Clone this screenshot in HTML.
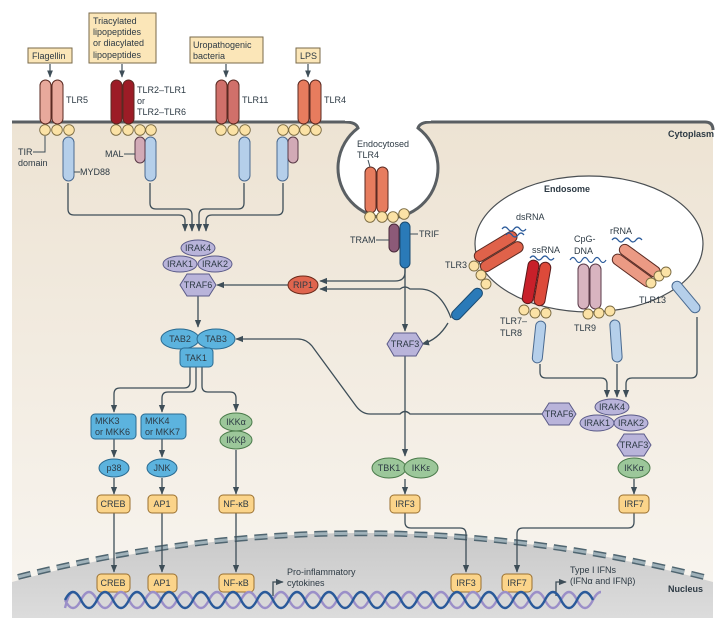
<!DOCTYPE html>
<html><head><meta charset="utf-8"><style>
html,body{margin:0;padding:0;background:#fff;}
svg{display:block;}
text{font-family:"Liberation Sans",sans-serif;font-size:9px;fill:#2d3a44;}
.lbl{font-size:9px;fill:#2d3a44;}
.c{text-anchor:middle;}
</style></head><body>
<svg width="720" height="623" viewBox="0 0 720 623" xmlns="http://www.w3.org/2000/svg">
<defs>
<linearGradient id="cyto" x1="0" y1="0" x2="0" y2="1">
<stop offset="0" stop-color="#ede3d3"/><stop offset="1" stop-color="#f8f5f0"/></linearGradient>
<linearGradient id="nuc" x1="0" y1="0" x2="0" y2="1">
<stop offset="0" stop-color="#c9c9c9"/><stop offset="1" stop-color="#dcdcdc"/></linearGradient>
<marker id="ar" viewBox="0 0 10 10" refX="9" refY="5" markerWidth="6" markerHeight="6" orient="auto-start-reverse"><path d="M0,1 L10,5 L0,9 Z" fill="#3e4e58"/></marker>
</defs>

<!-- cytoplasm -->
<path d="M12,122 H705 Q713,122 713,130 V618 H12 Z" fill="url(#cyto)"/>
<!-- nucleus -->
<path d="M12,582 Q362,484 713,582 V618 H12 Z" fill="url(#nuc)"/>
<path d="M18,577 Q362,489 708,578" fill="none" stroke="#4f6570" stroke-width="6" stroke-dasharray="13 7"/>
<path d="M18,577 Q362,489 708,578" fill="none" stroke="#9fb1b9" stroke-width="3" stroke-dasharray="13 7"/>

<!-- vesicle + membrane -->
<path d="M345,122 Q356,122 358,128 A50 50 0 1 0 418,128 Q420,122 431,122 Z" fill="#fff"/>
<path d="M12,122 H345 Q356,122 358,128 A50 50 0 1 0 418,128 Q420,122 431,122 H705 Q713,122 713,130" fill="none" stroke="#5a5f63" stroke-width="3"/>
<rect x="345" y="110" width="86" height="11" fill="#fff"/>

<!-- endosome -->
<ellipse cx="589" cy="244" rx="114" ry="68" fill="#fff" stroke="#4a4f53" stroke-width="1.2"/>

<text x="668" y="137" style="font-weight:bold;font-size:9px">Cytoplasm</text>
<text x="668" y="592" style="font-weight:bold;font-size:9px">Nucleus</text>
<text x="544" y="192" style="font-weight:bold;font-size:9px">Endosome</text>

<!-- ligand boxes -->
<g fill="#fbe6b8" stroke="#7a6a4a" stroke-width="1">
<rect x="28" y="48" width="44" height="15"/>
<rect x="89" y="13" width="67" height="50"/>
<rect x="190" y="37" width="73" height="26"/>
<rect x="296" y="48" width="24" height="15"/>
</g>
<text x="32" y="59">Flagellin</text>
<text x="93" y="24">Triacylated</text>
<text x="93" y="35">lipopeptides</text>
<text x="93" y="46">or diacylated</text>
<text x="93" y="58">lipopeptides</text>
<text x="193" y="48">Uropathogenic</text>
<text x="193" y="59">bacteria</text>
<text x="300" y="59">LPS</text>
<g stroke="#3e4e58" stroke-width="1.2" marker-end="url(#ar)">
<line x1="50" y1="64" x2="50" y2="77"/>
<line x1="122" y1="64" x2="122" y2="77"/>
<line x1="226" y1="64" x2="226" y2="77"/>
<line x1="308" y1="64" x2="308" y2="77"/>
</g>

<!-- connector lines -->
<g fill="none" stroke="#3e4e58" stroke-width="1.3">
<path d="M68,183 V209 Q68,215 74,215 H179 Q185,215 185,221 V231" marker-end="url(#ar)"/>
<path d="M150,183 V203 Q150,209 156,209 H186 Q192,209 192,215 V231" marker-end="url(#ar)"/>
<path d="M244,183 V203 Q244,209 238,209 H205 Q199,209 199,215 V231" marker-end="url(#ar)"/>
<path d="M283,183 V209 Q283,215 277,215 H212 Q206,215 206,221 V231" marker-end="url(#ar)"/>
<line x1="290" y1="285" x2="217" y2="285" marker-end="url(#ar)"/>
<path d="M405,268 V272 Q405,281 395,281 H320" marker-end="url(#ar)"/>
<path d="M451,318 Q440,289 420,289 H410 Q405,285 400,289 H320" marker-end="url(#ar)"/>
<path d="M405,268 V331" marker-end="url(#ar)"/>
<path d="M448,323 Q438,340 422,344" marker-end="url(#ar)"/>
<line x1="198" y1="295" x2="198" y2="327" marker-end="url(#ar)"/>
<!-- TRAF6 right to TAB3 -->
<path d="M546,414 H410 Q405,409 400,414 H370 Q362,414 356,406 L312,346 Q306,339 298,339 H236" marker-end="url(#ar)"/>
<!-- TAK1 branches -->
<path d="M190,367 V382 Q190,388 184,388 H120 Q114,388 114,394 V412" marker-end="url(#ar)"/>
<path d="M196,367 V386 Q196,392 190,392 H168 Q162,392 162,398 V412" marker-end="url(#ar)"/>
<path d="M202,367 V386 Q202,392 208,392 H230 Q236,392 236,398 V411" marker-end="url(#ar)"/>
<line x1="114" y1="439" x2="114" y2="457" marker-end="url(#ar)"/>
<line x1="162" y1="439" x2="162" y2="457" marker-end="url(#ar)"/>
<line x1="114" y1="478" x2="114" y2="494" marker-end="url(#ar)"/>
<line x1="162" y1="478" x2="162" y2="494" marker-end="url(#ar)"/>
<line x1="236" y1="450" x2="236" y2="494" marker-end="url(#ar)"/>
<line x1="114" y1="513" x2="114" y2="572" marker-end="url(#ar)"/>
<line x1="162" y1="513" x2="162" y2="572" marker-end="url(#ar)"/>
<line x1="236" y1="513" x2="236" y2="572" marker-end="url(#ar)"/>
<!-- TRAF3 to TBK1 -->
<line x1="405" y1="356" x2="405" y2="456" marker-end="url(#ar)"/>
<line x1="405" y1="479" x2="405" y2="494" marker-end="url(#ar)"/>
<path d="M405,513 V522 Q405,528 411,528 H460 Q466,528 466,534 V572" marker-end="url(#ar)"/>
<path d="M634,513 V522 Q634,528 628,528 H523 Q517,528 517,534 V572" marker-end="url(#ar)"/>
<line x1="634" y1="479" x2="634" y2="494" marker-end="url(#ar)"/>
<!-- endosome to IRAK4 -->
<path d="M540,364 V372 Q540,378 546,378 H601 Q607,378 607,384 V397" marker-end="url(#ar)"/>
<line x1="617" y1="364" x2="617" y2="397" marker-end="url(#ar)"/>
<path d="M697,317 V372 Q697,378 691,378 H632 Q626,378 626,384 V397" marker-end="url(#ar)"/>
<!-- gene arrows -->
<path d="M273,596 V582 H283" marker-end="url(#ar)"/>
<path d="M556,596 V582 H566" marker-end="url(#ar)"/>
</g>

<!-- receptors left -->
<g stroke="#5a2a22" stroke-width="1">
<rect x="40" y="80" width="11" height="44" rx="5.5" fill="#e8a99c"/>
<rect x="52" y="80" width="11" height="44" rx="5.5" fill="#e8a99c"/>
<rect x="111" y="80" width="11" height="44" rx="5.5" fill="#9c1c26"/>
<rect x="123" y="80" width="11" height="44" rx="5.5" fill="#9c1c26"/>
<rect x="216" y="80" width="11" height="44" rx="5.5" fill="#d0706a"/>
<rect x="228" y="80" width="11" height="44" rx="5.5" fill="#d0706a"/>
<rect x="298" y="80" width="11" height="44" rx="5.5" fill="#e77c5e"/>
<rect x="310" y="80" width="11" height="44" rx="5.5" fill="#e77c5e"/>
<rect x="365" y="167" width="11" height="46" rx="5.5" fill="#e77c5e"/>
<rect x="377" y="167" width="11" height="46" rx="5.5" fill="#e77c5e"/>
</g>
<g fill="#fbe2a6" stroke="#7a6a40" stroke-width="0.9">
<circle cx="45" cy="130" r="5.3"/><circle cx="57" cy="130" r="5.3"/><circle cx="69" cy="130" r="5.3"/>
<circle cx="116" cy="130" r="5.3"/><circle cx="128" cy="130" r="5.3"/><circle cx="140" cy="130" r="5.3"/><circle cx="151" cy="130" r="5.3"/>
<circle cx="221" cy="130" r="5.3"/><circle cx="233" cy="130" r="5.3"/><circle cx="245" cy="130" r="5.3"/>
<circle cx="283" cy="130" r="5.3"/><circle cx="294" cy="130" r="5.3"/><circle cx="305" cy="130" r="5.3"/><circle cx="316" cy="130" r="5.3"/>
<circle cx="370" cy="217" r="5.3"/><circle cx="382" cy="217" r="5.3"/><circle cx="393" cy="217" r="5.3"/><circle cx="404" cy="214" r="5.3"/>
</g>
<g stroke="#4a6a90" stroke-width="1" fill="#b5cfea">
<rect x="63" y="137" width="11" height="44" rx="5.5"/>
<rect x="145" y="137" width="11" height="44" rx="5.5"/>
<rect x="239" y="137" width="11" height="44" rx="5.5"/>
<rect x="277" y="137" width="11" height="44" rx="5.5"/>
</g>
<g stroke="#5a3a48" stroke-width="1" fill="#d2aab6">
<rect x="135" y="137" width="10" height="26" rx="5"/>
<rect x="288" y="137" width="10" height="26" rx="5"/>
</g>
<rect x="389" y="224" width="10" height="28" rx="5" fill="#8c5a78" stroke="#4a2a3a"/>
<rect x="400" y="222" width="10" height="46" rx="5" fill="#2a7ab8" stroke="#1a4a70"/>

<text x="66" y="103">TLR5</text>
<text x="137" y="93">TLR2–TLR1</text>
<text x="137" y="104">or</text>
<text x="137" y="115">TLR2–TLR6</text>
<text x="242" y="103">TLR11</text>
<text x="324" y="103">TLR4</text>
<text x="18" y="155">TIR</text>
<text x="18" y="166">domain</text>
<path d="M33,152 H45 V136" fill="none" stroke="#3e4e58"/>
<text x="80" y="175">MYD88</text>
<line x1="74" y1="172" x2="80" y2="172" stroke="#3e4e58"/>
<text x="105" y="157">MAL</text>
<line x1="124" y1="154" x2="135" y2="154" stroke="#3e4e58"/>
<text x="357" y="147">Endocytosed</text>
<text x="357" y="158">TLR4</text>
<line x1="368" y1="160" x2="370" y2="167" stroke="#3e4e58"/>
<text x="350" y="243">TRAM</text>
<line x1="376" y1="240" x2="389" y2="240" stroke="#3e4e58"/>
<text x="419" y="237">TRIF</text>
<line x1="410" y1="234" x2="418" y2="234" stroke="#3e4e58"/>

<!-- endosomal receptors -->
<g transform="translate(499,252) rotate(-31)" stroke="#5a2a22">
<rect x="-24" y="-12" width="48" height="11" rx="5.5" fill="#e0624a"/>
<rect x="-24" y="0" width="48" height="11" rx="5.5" fill="#e0624a"/>
</g>
<g transform="translate(467,304) rotate(-46)"><rect x="-20" y="-5" width="40" height="10" rx="5" fill="#2a7ab8" stroke="#1a4a70"/></g>
<g transform="translate(537,283) rotate(10)" stroke="#5a1a1a">
<rect x="-12" y="-22" width="11" height="44" rx="5.5" fill="#c8202a"/>
<rect x="0" y="-22" width="11" height="44" rx="5.5" fill="#dd4a3a"/>
</g>
<g stroke="#5a3a48" fill="#d8b4c0">
<rect x="578" y="264" width="11" height="45" rx="5.5"/>
<rect x="590" y="264" width="11" height="45" rx="5.5"/>
</g>
<g transform="translate(636,266) rotate(36)" stroke="#5a2a22">
<rect x="-24" y="-12" width="48" height="11" rx="5.5" fill="#eb9a84"/>
<rect x="-24" y="0" width="48" height="11" rx="5.5" fill="#eb9a84"/>
</g>
<g stroke="#4a6a90" fill="#b5cfea">
<g transform="translate(539,342) rotate(6)"><rect x="-5" y="-21" width="10" height="42" rx="5"/></g>
<g transform="translate(616,341) rotate(-4)"><rect x="-5" y="-21" width="10" height="42" rx="5"/></g>
<g transform="translate(686,297) rotate(-40)"><rect x="-5" y="-19" width="10" height="38" rx="5"/></g>
</g>
<g fill="#fbe2a6" stroke="#7a6a40" stroke-width="0.9">
<circle cx="474" cy="266" r="5"/><circle cx="481" cy="275" r="5"/><circle cx="486" cy="284" r="5"/>
<circle cx="524" cy="310" r="5"/><circle cx="535" cy="313" r="5"/><circle cx="546" cy="313" r="5"/>
<circle cx="588" cy="314" r="5"/><circle cx="599" cy="313" r="5"/><circle cx="610" cy="311" r="5"/>
<circle cx="651" cy="283" r="5"/><circle cx="659" cy="276" r="5"/><circle cx="666" cy="272" r="5"/>
</g>
<!-- nucleic acids -->
<g fill="none" stroke="#2a5a9a" stroke-width="1.2">
<path d="M502,229 q3,-4 6,0 t6,0 t6,0 t6,0"/><path d="M506,235 q3,-4 6,0 t6,0 t6,0"/>
<path d="M530,258 q3,-4 6,0 t6,0 t6,0 t6,0"/>
<path d="M570,260 q3,-5 6,0 t6,0 t6,0 t6,0 t6,0 t6,0"/>
<path d="M612,240 q3,-4 6,0 t6,0 t6,0 t6,0 t6,0"/>
</g>
<text x="516" y="220">dsRNA</text>
<text x="532" y="253">ssRNA</text>
<text x="574" y="242">CpG-</text>
<text x="574" y="254">DNA</text>
<text x="610" y="234">rRNA</text>
<text x="445" y="268">TLR3</text>
<text x="500" y="324">TLR7–</text>
<text x="500" y="336">TLR8</text>
<text x="574" y="331">TLR9</text>
<text x="639" y="303">TLR13</text>

<!-- hex helper shapes -->
<g fill="#b9b4da" stroke="#5a5a88" stroke-width="1">
<ellipse cx="198" cy="248" rx="17" ry="8"/>
<ellipse cx="180" cy="264" rx="17" ry="8"/>
<ellipse cx="215" cy="264" rx="17" ry="8"/>
<path d="M187,274 H209 L216,285 L209,296 H187 L180,285 Z"/>
<path d="M394,333 H416 L423,344 L416,356 H394 L387,344 Z"/>
<path d="M549,403 H569 L576,414 L569,425 H549 L542,414 Z"/>
<ellipse cx="612" cy="407" rx="17" ry="8"/>
<ellipse cx="597" cy="423" rx="17" ry="8"/>
<ellipse cx="631" cy="423" rx="17" ry="8"/>
<path d="M624,434 H644 L651,445 L644,456 H624 L617,445 Z"/>
</g>
<ellipse cx="303" cy="285" rx="15" ry="9" fill="#e0654e" stroke="#6a2a1a"/>
<g class="c">
<text x="198" y="251" class="c">IRAK4</text>
<text x="180" y="267" class="c">IRAK1</text>
<text x="215" y="267" class="c">IRAK2</text>
<text x="198" y="288" class="c">TRAF6</text>
<text x="303" y="288" class="c">RIP1</text>
<text x="405" y="347" class="c">TRAF3</text>
<text x="559" y="417" class="c">TRAF6</text>
<text x="612" y="410" class="c">IRAK4</text>
<text x="597" y="426" class="c">IRAK1</text>
<text x="631" y="426" class="c">IRAK2</text>
<text x="634" y="448" class="c">TRAF3</text>
</g>

<!-- blue kinases -->
<g fill="#5cb3de" stroke="#2a6a90" stroke-width="1">
<ellipse cx="180" cy="339" rx="19" ry="10"/>
<ellipse cx="216" cy="339" rx="19" ry="10"/>
<rect x="180" y="348" width="33" height="19" rx="4"/>
<rect x="91" y="414" width="45" height="25" rx="4"/>
<rect x="141" y="414" width="45" height="25" rx="4"/>
<ellipse cx="114" cy="468" rx="15" ry="9"/>
<ellipse cx="162" cy="468" rx="15" ry="9"/>
</g>
<text x="180" y="342" class="c">TAB2</text>
<text x="216" y="342" class="c">TAB3</text>
<text x="196" y="361" class="c">TAK1</text>
<text x="95" y="424">MKK3</text>
<text x="95" y="435">or MKK6</text>
<text x="145" y="424">MKK4</text>
<text x="145" y="435">or MKK7</text>
<text x="114" y="471" class="c">p38</text>
<text x="162" y="471" class="c">JNK</text>

<!-- green -->
<g fill="#9cc79a" stroke="#4a7a4a" stroke-width="1">
<ellipse cx="236" cy="422" rx="16" ry="9"/>
<ellipse cx="236" cy="440" rx="16" ry="9"/>
<ellipse cx="389" cy="468" rx="17" ry="10"/>
<ellipse cx="421" cy="468" rx="17" ry="10"/>
<ellipse cx="634" cy="468" rx="16" ry="10"/>
</g>
<text x="236" y="425" class="c">IKKα</text>
<text x="236" y="443" class="c">IKKβ</text>
<text x="389" y="471" class="c">TBK1</text>
<text x="421" y="471" class="c">IKKε</text>
<text x="634" y="471" class="c">IKKα</text>

<!-- yellow TFs -->
<g fill="#fbd48a" stroke="#9a7030" stroke-width="1">
<rect x="97" y="495" width="33" height="18" rx="4"/>
<rect x="148" y="495" width="29" height="18" rx="4"/>
<rect x="219" y="495" width="35" height="18" rx="4"/>
<rect x="390" y="495" width="30" height="18" rx="4"/>
<rect x="619" y="495" width="30" height="18" rx="4"/>
<rect x="97" y="574" width="33" height="18" rx="4"/>
<rect x="148" y="574" width="29" height="18" rx="4"/>
<rect x="219" y="574" width="35" height="18" rx="4"/>
<rect x="451" y="574" width="30" height="18" rx="4"/>
<rect x="502" y="574" width="30" height="18" rx="4"/>
</g>
<text x="113" y="507" class="c">CREB</text>
<text x="162" y="507" class="c">AP1</text>
<text x="236" y="507" class="c">NF-κB</text>
<text x="405" y="507" class="c">IRF3</text>
<text x="634" y="507" class="c">IRF7</text>
<text x="113" y="586" class="c">CREB</text>
<text x="162" y="586" class="c">AP1</text>
<text x="236" y="586" class="c">NF-κB</text>
<text x="466" y="586" class="c">IRF3</text>
<text x="517" y="586" class="c">IRF7</text>

<text x="287" y="575">Pro-inflammatory</text>
<text x="287" y="586">cytokines</text>
<text x="570" y="573">Type I IFNs</text>
<text x="570" y="584">(IFNα and IFNβ)</text>

<!-- DNA -->
<g fill="none" stroke-width="2.4">
<path stroke="#9b8fc8" d="M65,608 q4,-16 8,-16 M65,600 q4,8 8,8 t8,-8 t8,-8 t8,8 t8,8 t8,-8 t8,-8 t8,8 t8,8 t8,-8 t8,-8 t8,8 t8,8 t8,-8 t8,-8 t8,8 t8,8 t8,-8 t8,-8 t8,8 t8,8 t8,-8 t8,-8 t8,8 t8,8 t8,-8 t8,-8 t8,8 t8,8 t8,-8 t8,-8 t8,8 t8,8 t8,-8 t8,-8 t8,8 t8,8 t8,-8 t8,-8 t8,8 t8,8 t8,-8 t8,-8 t8,8 t8,8 t8,-8 t8,-8 t8,8 t8,8 t8,-8 t8,-8 t8,8 t8,8 t8,-8 t8,-8 t8,8 t8,8 t8,-8 t8,-8 t8,8 t8,8 t8,-8 t8,-8 t8,8 t8,8 t8,-8 t8,-8"/>
<path stroke="#2a5a9a" d="M65,600 q4,-8 8,-8 t8,8 t8,8 t8,-8 t8,-8 t8,8 t8,8 t8,-8 t8,-8 t8,8 t8,8 t8,-8 t8,-8 t8,8 t8,8 t8,-8 t8,-8 t8,8 t8,8 t8,-8 t8,-8 t8,8 t8,8 t8,-8 t8,-8 t8,8 t8,8 t8,-8 t8,-8 t8,8 t8,8 t8,-8 t8,-8 t8,8 t8,8 t8,-8 t8,-8 t8,8 t8,8 t8,-8 t8,-8 t8,8 t8,8 t8,-8 t8,-8 t8,8 t8,8 t8,-8 t8,-8 t8,8 t8,8 t8,-8 t8,-8 t8,8 t8,8 t8,-8 t8,-8 t8,8 t8,8 t8,-8 t8,-8 t8,8 t8,8 t8,-8 t8,-8 t8,8"/>
</g>
</svg>
</body></html>
